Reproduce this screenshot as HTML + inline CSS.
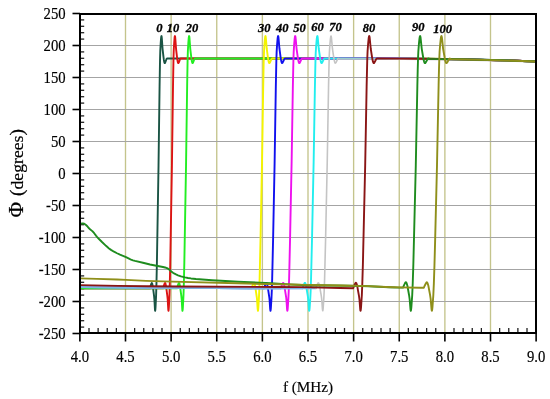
<!DOCTYPE html>
<html><head><meta charset="utf-8"><title>Phase vs frequency</title>
<style>html,body{margin:0;padding:0;background:#fff;width:550px;height:399px;overflow:hidden}svg{display:block}</style>
</head><body><svg width="550" height="399" viewBox="0 0 550 399"><rect x="0" y="0" width="550" height="399" fill="#fff"/><g stroke="#c4c48c" stroke-width="1.35"><line x1="125.50" y1="15" x2="125.50" y2="332"/><line x1="171.12" y1="15" x2="171.12" y2="332"/><line x1="216.75" y1="15" x2="216.75" y2="332"/><line x1="262.38" y1="15" x2="262.38" y2="332"/><line x1="308.00" y1="15" x2="308.00" y2="332"/><line x1="353.62" y1="15" x2="353.62" y2="332"/><line x1="399.25" y1="15" x2="399.25" y2="332"/><line x1="444.88" y1="15" x2="444.88" y2="332"/><line x1="490.50" y1="15" x2="490.50" y2="332"/></g><g stroke="#a4a4a4" stroke-width="1.1"><line x1="81" y1="301.50" x2="535" y2="301.50"/><line x1="81" y1="269.50" x2="535" y2="269.50"/><line x1="81" y1="237.50" x2="535" y2="237.50"/><line x1="81" y1="205.50" x2="535" y2="205.50"/><line x1="81" y1="173.50" x2="535" y2="173.50"/><line x1="81" y1="141.50" x2="535" y2="141.50"/><line x1="81" y1="109.50" x2="535" y2="109.50"/><line x1="81" y1="77.50" x2="535" y2="77.50"/><line x1="81" y1="45.50" x2="535" y2="45.50"/></g><g stroke="#000" stroke-width="1.6"><line x1="72.5" y1="333.50" x2="80" y2="333.50"/><line x1="72.5" y1="301.50" x2="80" y2="301.50"/><line x1="72.5" y1="269.50" x2="80" y2="269.50"/><line x1="72.5" y1="237.50" x2="80" y2="237.50"/><line x1="72.5" y1="205.50" x2="80" y2="205.50"/><line x1="72.5" y1="173.50" x2="80" y2="173.50"/><line x1="72.5" y1="141.50" x2="80" y2="141.50"/><line x1="72.5" y1="109.50" x2="80" y2="109.50"/><line x1="72.5" y1="77.50" x2="80" y2="77.50"/><line x1="72.5" y1="45.50" x2="80" y2="45.50"/><line x1="72.5" y1="13.50" x2="80" y2="13.50"/><line x1="79.88" y1="333" x2="79.88" y2="341.5"/><line x1="125.50" y1="333" x2="125.50" y2="341.5"/><line x1="171.12" y1="333" x2="171.12" y2="341.5"/><line x1="216.75" y1="333" x2="216.75" y2="341.5"/><line x1="262.38" y1="333" x2="262.38" y2="341.5"/><line x1="308.00" y1="333" x2="308.00" y2="341.5"/><line x1="353.62" y1="333" x2="353.62" y2="341.5"/><line x1="399.25" y1="333" x2="399.25" y2="341.5"/><line x1="444.88" y1="333" x2="444.88" y2="341.5"/><line x1="490.50" y1="333" x2="490.50" y2="341.5"/><line x1="536.12" y1="333" x2="536.12" y2="341.5"/></g><g stroke="#222" stroke-width="1.3"><line x1="80" y1="327.10" x2="84.2" y2="327.10"/><line x1="80" y1="320.70" x2="84.2" y2="320.70"/><line x1="80" y1="314.30" x2="84.2" y2="314.30"/><line x1="80" y1="307.90" x2="84.2" y2="307.90"/><line x1="80" y1="295.10" x2="84.2" y2="295.10"/><line x1="80" y1="288.70" x2="84.2" y2="288.70"/><line x1="80" y1="282.30" x2="84.2" y2="282.30"/><line x1="80" y1="275.90" x2="84.2" y2="275.90"/><line x1="80" y1="263.10" x2="84.2" y2="263.10"/><line x1="80" y1="256.70" x2="84.2" y2="256.70"/><line x1="80" y1="250.30" x2="84.2" y2="250.30"/><line x1="80" y1="243.90" x2="84.2" y2="243.90"/><line x1="80" y1="231.10" x2="84.2" y2="231.10"/><line x1="80" y1="224.70" x2="84.2" y2="224.70"/><line x1="80" y1="218.30" x2="84.2" y2="218.30"/><line x1="80" y1="211.90" x2="84.2" y2="211.90"/><line x1="80" y1="199.10" x2="84.2" y2="199.10"/><line x1="80" y1="192.70" x2="84.2" y2="192.70"/><line x1="80" y1="186.30" x2="84.2" y2="186.30"/><line x1="80" y1="179.90" x2="84.2" y2="179.90"/><line x1="80" y1="167.10" x2="84.2" y2="167.10"/><line x1="80" y1="160.70" x2="84.2" y2="160.70"/><line x1="80" y1="154.30" x2="84.2" y2="154.30"/><line x1="80" y1="147.90" x2="84.2" y2="147.90"/><line x1="80" y1="135.10" x2="84.2" y2="135.10"/><line x1="80" y1="128.70" x2="84.2" y2="128.70"/><line x1="80" y1="122.30" x2="84.2" y2="122.30"/><line x1="80" y1="115.90" x2="84.2" y2="115.90"/><line x1="80" y1="103.10" x2="84.2" y2="103.10"/><line x1="80" y1="96.70" x2="84.2" y2="96.70"/><line x1="80" y1="90.30" x2="84.2" y2="90.30"/><line x1="80" y1="83.90" x2="84.2" y2="83.90"/><line x1="80" y1="71.10" x2="84.2" y2="71.10"/><line x1="80" y1="64.70" x2="84.2" y2="64.70"/><line x1="80" y1="58.30" x2="84.2" y2="58.30"/><line x1="80" y1="51.90" x2="84.2" y2="51.90"/><line x1="80" y1="39.10" x2="84.2" y2="39.10"/><line x1="80" y1="32.70" x2="84.2" y2="32.70"/><line x1="80" y1="26.30" x2="84.2" y2="26.30"/><line x1="80" y1="19.90" x2="84.2" y2="19.90"/><line x1="89.00" y1="328" x2="89.00" y2="333"/><line x1="98.13" y1="328" x2="98.13" y2="333"/><line x1="107.25" y1="328" x2="107.25" y2="333"/><line x1="116.38" y1="328" x2="116.38" y2="333"/><line x1="134.62" y1="328" x2="134.62" y2="333"/><line x1="143.75" y1="328" x2="143.75" y2="333"/><line x1="152.88" y1="328" x2="152.88" y2="333"/><line x1="162.00" y1="328" x2="162.00" y2="333"/><line x1="180.25" y1="328" x2="180.25" y2="333"/><line x1="189.38" y1="328" x2="189.38" y2="333"/><line x1="198.50" y1="328" x2="198.50" y2="333"/><line x1="207.63" y1="328" x2="207.63" y2="333"/><line x1="225.87" y1="328" x2="225.87" y2="333"/><line x1="235.00" y1="328" x2="235.00" y2="333"/><line x1="244.12" y1="328" x2="244.12" y2="333"/><line x1="253.25" y1="328" x2="253.25" y2="333"/><line x1="271.50" y1="328" x2="271.50" y2="333"/><line x1="280.62" y1="328" x2="280.62" y2="333"/><line x1="289.75" y1="328" x2="289.75" y2="333"/><line x1="298.88" y1="328" x2="298.88" y2="333"/><line x1="317.12" y1="328" x2="317.12" y2="333"/><line x1="326.25" y1="328" x2="326.25" y2="333"/><line x1="335.38" y1="328" x2="335.38" y2="333"/><line x1="344.50" y1="328" x2="344.50" y2="333"/><line x1="362.75" y1="328" x2="362.75" y2="333"/><line x1="371.88" y1="328" x2="371.88" y2="333"/><line x1="381.00" y1="328" x2="381.00" y2="333"/><line x1="390.13" y1="328" x2="390.13" y2="333"/><line x1="408.37" y1="328" x2="408.37" y2="333"/><line x1="417.50" y1="328" x2="417.50" y2="333"/><line x1="426.63" y1="328" x2="426.63" y2="333"/><line x1="435.75" y1="328" x2="435.75" y2="333"/><line x1="454.00" y1="328" x2="454.00" y2="333"/><line x1="463.12" y1="328" x2="463.12" y2="333"/><line x1="472.25" y1="328" x2="472.25" y2="333"/><line x1="481.38" y1="328" x2="481.38" y2="333"/><line x1="499.63" y1="328" x2="499.63" y2="333"/><line x1="508.75" y1="328" x2="508.75" y2="333"/><line x1="517.88" y1="328" x2="517.88" y2="333"/><line x1="527.00" y1="328" x2="527.00" y2="333"/></g><g fill="none" stroke-width="1.9" stroke-linejoin="round" stroke-linecap="round"><path d="M80.00,288.40 L149.83,288.40 L149.88,288.38 L150.53,286.01 L151.28,283.83 L151.63,283.10 L151.78,282.97 L151.88,282.97 L152.08,283.26 L152.28,283.86 L152.83,286.39 L154.08,296.16 L154.43,299.95 L154.93,309.16 L155.08,310.61 L155.13,310.77 L155.18,310.75 L155.38,309.39 L155.58,306.48 L156.13,294.67 L156.48,282.61 L156.88,263.96 L158.53,165.54 L159.58,86.29 L160.03,59.57 L160.28,50.88 L160.68,43.47 L161.08,38.07 L161.28,36.54 L161.43,36.05 L161.48,36.03 L161.53,36.11 L161.58,36.28 L161.78,37.82 L162.58,49.02 L163.48,56.95 L163.88,59.97 L164.18,61.71 L164.48,62.80 L164.63,63.05 L164.73,63.10 L164.98,62.94 L165.23,62.52 L166.43,59.25 L166.73,58.72 L166.98,58.56 L382.32,58.56 L413.32,58.69 L443.32,59.04 L474.32,59.62 L505.32,60.44 L536.00,61.47" stroke="#1a5444"/><path d="M80.00,288.40 L163.03,288.40 L163.73,286.01 L164.48,283.89 L164.83,283.13 L165.08,282.96 L165.28,283.18 L165.48,283.71 L166.08,286.34 L167.33,295.83 L167.68,299.24 L168.28,309.66 L168.43,310.74 L168.48,310.77 L168.53,310.66 L168.73,309.06 L168.93,306.07 L169.48,294.40 L169.83,282.56 L170.23,264.40 L171.93,165.52 L173.03,84.63 L173.48,59.00 L173.73,50.73 L174.18,42.73 L174.58,37.72 L174.78,36.39 L174.93,36.03 L175.08,36.40 L175.23,37.52 L176.08,49.02 L176.98,56.77 L177.38,59.76 L177.68,61.51 L177.98,62.68 L178.13,62.99 L178.28,63.10 L178.43,63.04 L178.58,62.89 L178.88,62.34 L180.13,59.03 L180.38,58.67 L180.63,58.56 L382.97,58.56 L413.97,58.69 L444.97,59.06 L474.97,59.64 L505.97,60.46 L536.00,61.47" stroke="#dc1414"/><path d="M80.00,288.40 L176.92,288.40 L177.62,286.02 L178.42,283.82 L178.77,283.11 L178.92,282.98 L179.02,282.96 L179.22,283.19 L179.42,283.71 L180.02,286.27 L181.32,295.87 L181.67,299.18 L182.27,309.43 L182.42,310.67 L182.47,310.78 L182.52,310.73 L182.72,309.41 L182.92,306.67 L183.52,294.41 L183.92,280.95 L184.32,262.88 L186.02,166.30 L187.17,84.02 L187.62,59.09 L187.87,50.92 L188.32,43.04 L188.77,37.56 L188.97,36.33 L189.12,36.03 L189.27,36.43 L189.42,37.55 L190.27,48.82 L191.17,56.44 L191.57,59.42 L191.92,61.47 L192.22,62.63 L192.37,62.96 L192.52,63.10 L192.77,62.98 L193.02,62.62 L194.32,59.28 L194.62,58.76 L194.92,58.56 L383.33,58.56 L415.33,58.71 L445.33,59.07 L475.33,59.65 L505.33,60.44 L536.00,61.47" stroke="#22ee22"/><path d="M80.00,287.00 L249.98,288.30 L251.63,288.30 L251.68,288.17" stroke="#7fb2e6"/><path d="M251.68,288.17 L252.53,285.63 L253.33,283.70 L253.68,283.06 L253.93,282.86 L254.03,282.87 L254.18,283.01 L254.43,283.53 L254.68,284.32 L255.23,286.66 L256.83,297.49 L257.08,300.08 L257.63,308.72 L257.88,310.73 L257.93,310.78 L257.98,310.72 L258.08,310.32 L258.33,307.99 L258.93,298.12 L259.28,289.93 L259.63,278.48 L260.48,241.01 L261.98,164.26 L263.18,87.96 L263.68,62.10 L263.98,52.23 L264.38,45.47 L264.93,38.64 L265.18,36.80 L265.33,36.20 L265.43,36.04 L265.53,36.10 L265.63,36.44 L265.83,37.82 L266.78,48.99 L267.83,56.78 L268.28,59.68 L268.63,61.46 L268.98,62.65 L269.18,63.01 L269.33,63.10 L269.63,62.95 L269.93,62.54 L271.38,59.23 L271.73,58.72 L272.03,58.56 L386.62,58.56 L405.62,58.63 L425.62,58.81 L453.62,59.21 L480.62,59.77 L508.62,60.54 L536.00,61.47" stroke="#f4f400"/><path d="M80.00,287.00 L250.00,288.30 L264.05,288.28" stroke="#7fb2e6"/><path d="M264.05,288.28 L264.95,285.63 L265.80,283.63 L266.15,283.03 L266.40,282.86 L266.60,282.97 L266.85,283.44 L267.15,284.35 L267.70,286.64 L269.35,297.62 L269.60,300.23 L270.15,308.72 L270.40,310.72 L270.45,310.78 L270.50,310.73 L270.60,310.37 L270.85,308.16 L271.50,297.68 L271.85,289.43 L272.20,278.09 L273.10,238.86 L274.60,163.46 L275.80,88.47 L276.35,60.85 L276.65,51.65 L277.10,44.50 L277.65,38.15 L277.90,36.55 L278.10,36.04 L278.20,36.09 L278.30,36.41 L278.50,37.73 L279.45,48.72 L280.55,56.78 L281.00,59.63 L281.35,61.39 L281.70,62.60 L281.90,62.98 L282.05,63.10 L282.35,62.98 L282.65,62.61 L283.00,61.93 L284.15,59.27 L284.50,58.74 L284.70,58.59 L284.85,58.56 L388.45,58.56 L408.45,58.65 L428.45,58.84 L455.45,59.24 L482.45,59.81 L509.45,60.56 L536.00,61.47" stroke="#1111ee"/><path d="M80.00,287.00 L250.00,288.30 L280.78,288.26" stroke="#7fb2e6"/><path d="M280.78,288.26 L281.68,285.67 L282.53,283.71 L282.88,283.09 L283.13,282.87 L283.28,282.88 L283.38,282.96 L283.63,283.40 L283.93,284.27 L284.53,286.71 L284.98,289.89 L286.18,297.37 L286.48,300.39 L287.03,308.70 L287.18,310.18 L287.33,310.78 L287.43,310.63 L287.53,310.16 L287.78,307.80 L288.38,298.33 L288.73,290.69 L289.13,278.28 L290.03,240.23 L291.63,161.73 L292.83,88.41 L293.38,61.36 L293.68,52.11 L294.13,44.95 L294.68,38.54 L294.93,36.80 L295.08,36.22 L295.18,36.04 L295.28,36.07 L295.38,36.36 L295.58,37.58 L296.58,48.78 L297.73,56.96 L298.18,59.72 L298.58,61.63 L298.93,62.71 L299.13,63.03 L299.28,63.10 L299.63,62.91 L299.98,62.40 L301.13,59.80 L301.53,59.04 L301.83,58.67 L302.13,58.56 L390.77,58.57 L410.77,58.67 L431.77,58.88 L457.77,59.28 L483.77,59.85 L509.77,60.57 L536.00,61.47" stroke="#ee11ee"/><path d="M80.00,287.00 L250.00,288.30 L302.43,288.29" stroke="#7fb2e6"/><path d="M302.43,288.29 L303.38,285.64 L304.28,283.64 L304.63,283.06 L304.88,282.87 L305.13,282.97 L305.43,283.51 L305.73,284.40 L306.28,286.54 L306.78,289.93 L307.63,294.81 L308.03,297.49 L308.33,300.48 L308.88,308.55 L309.03,310.05 L309.18,310.76 L309.28,310.70 L309.38,310.32 L309.63,308.22 L310.28,298.43 L310.63,291.13 L311.03,279.31 L311.98,240.69 L313.63,162.37 L314.88,88.49 L315.43,62.09 L315.73,52.77 L316.13,46.25 L316.78,38.64 L317.03,36.90 L317.28,36.07 L317.38,36.04 L317.48,36.23 L317.73,37.64 L318.78,49.01 L319.98,57.21 L320.43,59.84 L320.83,61.66 L321.18,62.71 L321.38,63.02 L321.53,63.10 L321.88,62.93 L322.28,62.37 L323.83,59.09 L324.18,58.67 L324.48,58.56 L394.17,58.58 L415.17,58.70 L437.17,58.95 L461.17,59.35 L486.17,59.91 L511.17,60.62 L536.00,61.47" stroke="#22eeee"/><path d="M80.00,287.00 L250.00,288.30 L315.78,288.30 L315.83,288.24" stroke="#7fb2e6"/><path d="M315.83,288.24 L316.78,285.65 L317.68,283.68 L318.08,283.03 L318.33,282.86 L318.58,282.98 L318.88,283.53 L319.18,284.40 L319.78,286.76 L320.28,290.11 L321.13,294.89 L321.53,297.53 L321.83,300.47 L322.43,308.99 L322.68,310.73 L322.73,310.78 L322.78,310.74 L322.88,310.42 L323.13,308.50 L323.83,298.25 L324.18,291.03 L324.58,279.43 L325.53,241.69 L327.23,162.60 L328.53,87.35 L329.08,61.71 L329.38,52.68 L329.83,45.61 L330.43,38.78 L330.73,36.76 L330.98,36.05 L331.08,36.06 L331.18,36.30 L331.43,37.76 L332.48,48.96 L333.68,57.02 L334.13,59.64 L334.53,61.49 L334.93,62.70 L335.13,63.01 L335.28,63.10 L335.58,62.99 L335.93,62.58 L336.33,61.84 L337.53,59.26 L337.93,58.72 L338.28,58.56 L338.73,58.68 L339.23,59.07 L384.02,59.07 L403.02,59.13 L427.02,59.33 L452.02,59.69 L473.02,60.11 L494.02,60.63 L515.02,61.25 L536.00,61.99" stroke="#c4c4c4" stroke-width="1.6"/><path d="M80.00,285.10 L118.00,285.88 L147.00,286.27 L179.00,286.49 L277.00,286.94 L301.00,287.11 L312.00,287.31 L340.00,288.05 L353.18,288.22 L354.08,285.91 L355.13,283.70 L355.58,282.98 L355.78,282.82 L355.93,282.78 L356.18,282.97 L356.48,283.54 L357.28,286.14 L357.98,290.39 L358.98,295.84 L359.48,299.63 L360.23,309.45 L360.38,310.50 L360.48,310.77 L360.53,310.76 L360.63,310.53 L360.78,309.72 L361.03,307.32 L361.83,295.27 L362.33,283.03 L362.88,264.61 L365.18,165.51 L366.63,86.37 L367.28,58.73 L367.58,51.22 L368.13,43.75 L368.68,38.26 L368.93,36.75 L369.13,36.13 L369.28,36.04 L369.38,36.23 L369.63,37.50 L370.78,49.02 L372.08,57.28 L372.58,59.98 L372.98,61.66 L373.38,62.75 L373.58,63.03 L373.73,63.10 L374.03,62.99 L374.38,62.62 L374.83,61.84 L376.08,59.29 L376.48,58.76 L376.68,58.61 L376.88,58.56 L396.72,58.59 L416.72,58.72 L436.72,58.94 L456.72,59.26 L476.72,59.68 L496.72,60.19 L516.72,60.80 L536.00,61.47" stroke="#8a1515"/><path d="M80.00,224.00 L81.00,223.59 L82.00,223.43 L83.00,223.40 L84.00,223.67 L85.00,224.27 L86.00,224.98 L87.00,225.99 L89.00,228.30 L90.00,229.23 L92.00,230.87 L93.00,231.80 L94.00,232.96 L96.00,235.62 L97.00,236.83 L99.00,239.02 L102.00,242.04 L106.00,245.83 L109.00,248.42 L111.00,249.87 L114.00,251.69 L117.00,253.26 L120.00,254.66 L126.00,257.18 L130.00,259.21 L131.00,259.66 L133.00,260.35 L135.00,260.88 L144.00,263.00 L150.00,264.50 L159.00,266.30 L163.00,267.01 L165.00,267.46 L166.00,267.76 L167.00,268.18 L168.00,268.70 L169.00,269.36 L171.00,271.20 L173.00,272.76 L174.00,273.40 L176.00,274.42 L178.00,275.28 L181.00,276.30 L185.00,277.37 L188.00,277.99 L191.00,278.43 L196.00,278.94 L212.00,280.18 L221.00,280.80 L238.00,281.72 L271.00,283.25 L289.00,284.38 L296.00,284.75 L302.00,284.96 L312.00,285.19 L347.00,285.73 L361.00,286.03 L369.00,286.32 L389.00,287.27 L399.00,287.58 L403.00,287.64 L403.95,285.31 L405.05,283.14 L405.55,282.39 L405.75,282.24 L405.95,282.21 L406.25,282.48 L406.55,283.07 L407.40,285.74 L409.05,294.96 L409.65,299.10 L410.50,309.40 L410.65,310.43 L410.80,310.78 L410.90,310.64 L411.05,309.99 L411.35,307.45 L412.20,295.55 L412.75,283.01 L413.35,264.15 L415.80,165.20 L417.35,85.95 L417.70,70.48 L418.05,58.30 L418.35,51.32 L418.95,43.67 L419.50,38.47 L419.75,36.96 L420.00,36.15 L420.15,36.03 L420.25,36.16 L420.55,37.53 L421.75,48.84 L423.20,57.49 L423.70,60.00 L424.10,61.59 L424.50,62.66 L424.70,62.97 L424.90,63.10 L425.25,62.99 L425.65,62.57 L426.10,61.84 L427.45,59.26 L427.90,58.72 L428.10,58.59 L428.30,58.56 L428.85,58.62 L429.35,58.85 L456.25,59.25 L482.25,59.81 L509.25,60.56 L536.00,61.47" stroke="#1e8c1e"/><path d="M80.00,278.40 L97.00,278.83 L117.00,279.49 L126.00,279.85 L146.00,280.85 L163.00,281.40 L289.00,284.56 L306.00,284.92 L342.00,285.52 L359.00,285.88 L368.00,286.16 L386.00,286.96 L394.00,287.26 L400.00,287.40 L420.00,287.68 L423.86,287.72 L424.81,285.45 L425.96,283.23 L426.46,282.49 L426.66,282.33 L426.86,282.28 L427.16,282.50 L427.51,283.15 L428.36,285.72 L430.11,295.18 L430.66,298.81 L431.51,308.91 L431.71,310.39 L431.86,310.78 L432.01,310.53 L432.16,309.81 L432.46,307.20 L433.31,295.54 L433.86,283.39 L434.46,265.17 L435.16,239.39 L437.01,164.99 L438.61,85.32 L438.96,70.31 L439.31,58.44 L439.61,51.54 L440.16,44.55 L440.76,38.79 L441.01,37.21 L441.26,36.26 L441.41,36.04 L441.56,36.13 L441.86,37.39 L442.16,39.72 L443.11,48.82 L444.61,57.53 L445.11,59.98 L445.51,61.53 L445.91,62.61 L446.11,62.93 L446.31,63.09 L446.51,63.08 L446.71,62.99 L447.11,62.58 L447.56,61.87 L448.96,59.27 L449.41,58.73 L449.81,58.56 L450.31,58.69 L450.91,59.16 L472.84,59.59 L493.84,60.11 L514.84,60.74 L536.00,61.47" stroke="#8f8f1a"/></g><g stroke="#000" stroke-width="2" fill="none"><rect x="80" y="14" width="456" height="319"/></g><g font-family="'Liberation Serif', serif" font-size="14.7" fill="#000" stroke="#000" stroke-width="0.15"><text transform="translate(65.6,338.50) scale(1,1.07)" text-anchor="end">-250</text><text transform="translate(65.6,306.50) scale(1,1.07)" text-anchor="end">-200</text><text transform="translate(65.6,274.50) scale(1,1.07)" text-anchor="end">-150</text><text transform="translate(65.6,242.50) scale(1,1.07)" text-anchor="end">-100</text><text transform="translate(65.6,210.50) scale(1,1.07)" text-anchor="end">-50</text><text transform="translate(65.6,178.50) scale(1,1.07)" text-anchor="end">0</text><text transform="translate(65.6,146.50) scale(1,1.07)" text-anchor="end">50</text><text transform="translate(65.6,114.50) scale(1,1.07)" text-anchor="end">100</text><text transform="translate(65.6,82.50) scale(1,1.07)" text-anchor="end">150</text><text transform="translate(65.6,50.50) scale(1,1.07)" text-anchor="end">200</text><text transform="translate(65.6,18.50) scale(1,1.07)" text-anchor="end">250</text><text transform="translate(79.88,362.2) scale(1,1.07)" text-anchor="middle">4.0</text><text transform="translate(125.50,362.2) scale(1,1.07)" text-anchor="middle">4.5</text><text transform="translate(171.12,362.2) scale(1,1.07)" text-anchor="middle">5.0</text><text transform="translate(216.75,362.2) scale(1,1.07)" text-anchor="middle">5.5</text><text transform="translate(262.38,362.2) scale(1,1.07)" text-anchor="middle">6.0</text><text transform="translate(308.00,362.2) scale(1,1.07)" text-anchor="middle">6.5</text><text transform="translate(353.62,362.2) scale(1,1.07)" text-anchor="middle">7.0</text><text transform="translate(399.25,362.2) scale(1,1.07)" text-anchor="middle">7.5</text><text transform="translate(444.88,362.2) scale(1,1.07)" text-anchor="middle">8.0</text><text transform="translate(490.50,362.2) scale(1,1.07)" text-anchor="middle">8.5</text><text transform="translate(536.12,362.2) scale(1,1.07)" text-anchor="middle">9.0</text></g><g font-family="'Liberation Serif', serif" font-size="12.5" font-weight="bold" font-style="italic" fill="#000" stroke="#000" stroke-width="0.3"><text x="156.2" y="31.5">0</text><text x="166.7" y="31.5">10</text><text x="185.7" y="31.8">20</text><text x="257.9" y="32.0">30</text><text x="275.9" y="31.8">40</text><text x="293.2" y="31.8">50</text><text x="311.3" y="30.8">60</text><text x="329.3" y="30.8">70</text><text x="362.7" y="31.6">80</text><text x="411.9" y="31.4">90</text><text x="433.3" y="33.4">100</text></g><text x="308" y="391.5" text-anchor="middle" font-family="'Liberation Serif', serif" font-size="15.2" stroke="#000" stroke-width="0.15">f (MHz)</text><text transform="translate(22.8,217.6) rotate(-90)" font-family="'Liberation Serif', serif" font-size="17.7" stroke="#000" stroke-width="0.2"><tspan font-size="21.3">&#934;</tspan> <tspan font-size="19.5" dx="1.6">(</tspan>degrees<tspan font-size="19.5">)</tspan></text></svg></body></html>
